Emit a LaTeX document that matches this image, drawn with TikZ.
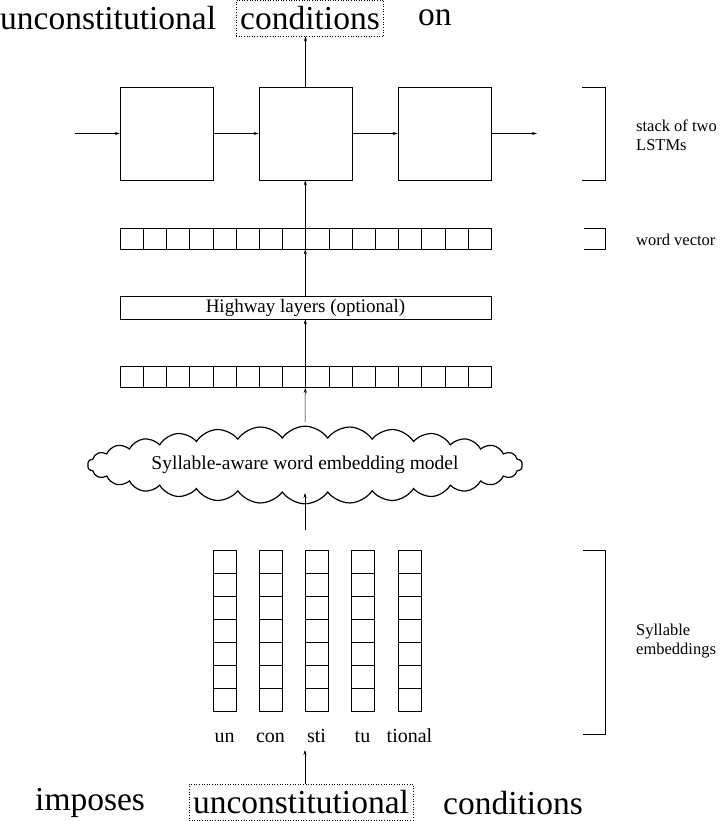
\documentclass[tikz,border=0pt]{standalone}
\usepackage{fontspec}
\setmainfont{Liberation Serif}
\usetikzlibrary{shapes.symbols,arrows.meta}
\begin{document}
\begin{tikzpicture}[x=1pt,y=-1pt,
  arr/.style={-{Stealth[length=5pt,width=3pt]},line width=0.5pt},
  lstm/.style={draw,line width=0.6pt,minimum width=93pt,minimum height=93pt,inner sep=0},
  cell/.style={draw,line width=0.6pt,minimum width=23.2pt,minimum height=21pt,inner sep=0},
  scell/.style={draw,line width=0.6pt,minimum width=23pt,minimum height=23.1pt,inner sep=0},
  big/.style={font=\fontsize{33.5}{33.5}\selectfont,inner sep=0},
  dbox/.style={draw,dotted,line width=0.6pt,inner sep=4pt},
  lab/.style={font=\fontsize{16.5}{19}\selectfont,align=left,anchor=west,inner sep=0},
  brk/.style={line width=0.6pt}]
\useasboundingbox (0,0) rectangle (727,821);
% top text
\node[big,anchor=west] (t1) at (0,18) {unconstitutional};
\node[big,dbox,minimum height=36pt] (t2) at (310,18) {conditions};
\node[big,anchor=west] (t3) at (418,18) {on};
% LSTMs
\node[lstm] (l1) at (166.5,133.5) {};
\node[lstm] (l2) at (305.5,133.5) {};
\node[lstm] (l3) at (444.5,133.5) {};
\coordinate (in) at (75,133.5);
\coordinate (out) at (537,133.5);
\draw[arr] (in) -- (l1);
\draw[arr] (l1) -- (l2);
\draw[arr] (l2) -- (l3);
\draw[arr] (l3) -- (out);
\draw[arr] (l2.north) -- (l2.north |- t2.south);
% word vector
\foreach \i in {0,...,15}{\node[cell] (w\i) at (131.6+23.2*\i,238.5) {};}
\draw[arr] (w8.north west) -- (w8.north west |- l2.south);
% highway
\node[draw,line width=0.6pt,minimum width=371pt,minimum height=23pt,inner sep=0,font=\fontsize{19}{19}\selectfont] (hw) at (305.5,307.5) {Highway layers (optional)};
\draw[arr] (w8.south west |- hw.north) -- (w8.south west);
\foreach \i in {0,...,15}{\node[cell] (v\i) at (131.6+23.2*\i,377) {};}
\draw[arr] (v8.north west) -- (v8.north west |- hw.south);
% cloud
\node[cloud,draw,line width=1.2pt,cloud puffs=30,cloud puff arc=110,aspect=8,minimum width=420pt,minimum height=50pt,inner sep=0,font=\fontsize{19.5}{19.5}\selectfont] (cl) at (305,465) {Syllable-aware word embedding model};
\coordinate (cltop) at (305,422);
\draw[arr] (cltop) -- (v8.south west);
% syllables
\foreach \c/\x/\s in {0/224.5/un,1/270.5/con,2/316.5/sti,3/362.5/tu,4/409.5/tional}{
  \foreach \j in {0,...,6}{\node[scell] (s\c\j) at (\x,561.5+23.1*\j) {};}
  \node[font=\fontsize{20}{20}\selectfont,inner sep=0,anchor=base] (sl\c) at (\x,742) {\s};
}
\coordinate (syltop) at (305,530);
\coordinate (clbot) at (305,493);
\draw[arr] (syltop) -- (clbot);
% bottom text
\node[big,anchor=west] (b1) at (35,803) {imposes};
\node[big,dbox,minimum height=36pt] (b2) at (301,802) {unconstitutional};
\node[big,anchor=west] (b3) at (443,803) {conditions};
\coordinate (b2top) at (305,784);
\coordinate (syl) at (305,750);
\draw[arr] (b2top) -- (syl);
% brackets
\draw[brk] (582,87) -- (605,87) -- (605,180) -- (582,180);
\draw[brk] (584,228) -- (605,228) -- (605,249) -- (584,249);
\draw[brk] (583,550) -- (605,550) -- (605,734) -- (583,734);
\node[lab] (lb1) at (636,135) {stack of two\\LSTMs};
\node[lab] (lb2) at (636,240) {word vector};
\node[lab] (lb3) at (636,641) {Syllable\\embeddings};
\end{tikzpicture}
\end{document}
